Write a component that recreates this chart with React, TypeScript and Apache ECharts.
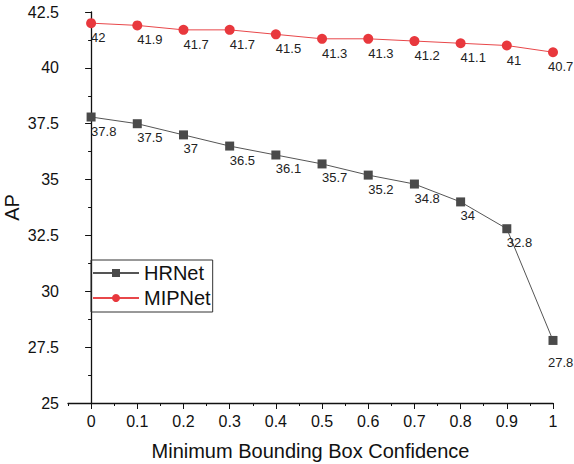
import * as echarts from 'echarts';
import { useEffect, useRef } from 'react';

const confidence = [0, 0.1, 0.2, 0.3, 0.4, 0.5, 0.6, 0.7, 0.8, 0.9, 1];
const hrnetAP = [37.8, 37.5, 37, 36.5, 36.1, 35.7, 35.2, 34.8, 34, 32.8, 27.8];
const mipnetAP = [42, 41.9, 41.7, 41.7, 41.5, 41.3, 41.3, 41.2, 41.1, 41, 40.7];
const xTicks = [0, 0.1, 0.2, 0.3, 0.4, 0.5, 0.6, 0.7, 0.8, 0.9, 1];

const FONT = 'Liberation Sans, Arial, sans-serif';

// the last label is nudged left so it stays inside the picture, like the original
const toPoints = (values: number[], lastOffset: number[]) =>
  confidence.map((x, i) =>
    i === confidence.length - 1
      ? { value: [x, values[i]], label: { offset: lastOffset } }
      : [x, values[i]],
  );

export default function App() {
  const container = useRef<HTMLDivElement | null>(null);

  useEffect(() => {
    if (!container.current) return;
    const chart = echarts.init(container.current, null, { renderer: 'svg' });

    const label = {
      show: true,
      position: 'bottom',
      align: 'left',
      distance: 3,
      fontSize: 13,
      fontFamily: FONT,
      color: '#222',
    };

    chart.setOption({
      animation: false,
      textStyle: { fontFamily: FONT },
      grid: { left: 68, right: 21, top: 12, bottom: 61, containLabel: false, outerBoundsMode: 'none' },
      legend: {
        orient: 'vertical',
        left: 91,
        top: 260,
        padding: [3, 2, 4, 1],
        itemGap: 5,
        itemWidth: 46,
        itemHeight: 10,
        borderColor: '#333',
        borderWidth: 1,
        textStyle: { fontSize: 20, color: '#111', fontFamily: FONT },
        data: ['HRNet', 'MIPNet'],
      },
      xAxis: [
        {
          type: 'value',
          min: -0.05,
          max: 1,
          name: 'Minimum Bounding Box Confidence',
          nameLocation: 'middle',
          nameGap: 38,
          nameTextStyle: { fontSize: 20, color: '#111', fontFamily: FONT },
          splitLine: { show: false },
          axisLine: { lineStyle: { color: '#111', width: 1.3 } },
          axisTick: { customValues: xTicks, length: 6, lineStyle: { color: '#111' } },
          axisLabel: {
            customValues: xTicks,
            fontSize: 16,
            color: '#111',
            margin: 10,
            formatter: (v: number) => String(Math.round(v * 10) / 10),
          },
        },
        {
          type: 'value',
          min: -0.05,
          max: 1,
          interval: 0.05,
          position: 'bottom',
          axisLine: { show: false },
          axisTick: { length: 3, lineStyle: { color: '#111' } },
          axisLabel: { show: false },
          splitLine: { show: false },
        },
      ],
      yAxis: {
        type: 'value',
        min: 25,
        max: 42.5,
        interval: 2.5,
        name: 'AP',
        nameLocation: 'middle',
        nameGap: 46,
        nameMoveOverlap: false,
        nameTextStyle: { fontSize: 20, color: '#111', fontFamily: FONT },
        splitLine: { show: false },
        axisLine: { show: true, lineStyle: { color: '#111', width: 1.3 } },
        axisTick: { show: true, length: 6, lineStyle: { color: '#111' } },
        minorTick: { show: true, splitNumber: 2, length: 3, lineStyle: { color: '#111' } },
        axisLabel: { fontSize: 16, color: '#111', margin: 9 },
      },
      series: [
        {
          name: 'HRNet',
          type: 'line',
          data: toPoints(hrnetAP, [-5, 8]),
          symbol: 'rect',
          symbolSize: 9,
          itemStyle: { color: '#4a4a4a' },
          lineStyle: { color: '#555', width: 1 },
          label,
        },
        {
          name: 'MIPNet',
          type: 'line',
          data: toPoints(mipnetAP, [-5, 0]),
          symbol: 'circle',
          symbolSize: 10,
          itemStyle: { color: '#e8383d' },
          lineStyle: { color: '#e8474a', width: 1 },
          label,
        },
      ],
    });

    return () => chart.dispose();
  }, []);

  return (
    <div
      ref={container}
      style={{ width: 574, height: 464, position: 'absolute', left: 0, top: 0, background: '#fff' }}
    />
  );
}
